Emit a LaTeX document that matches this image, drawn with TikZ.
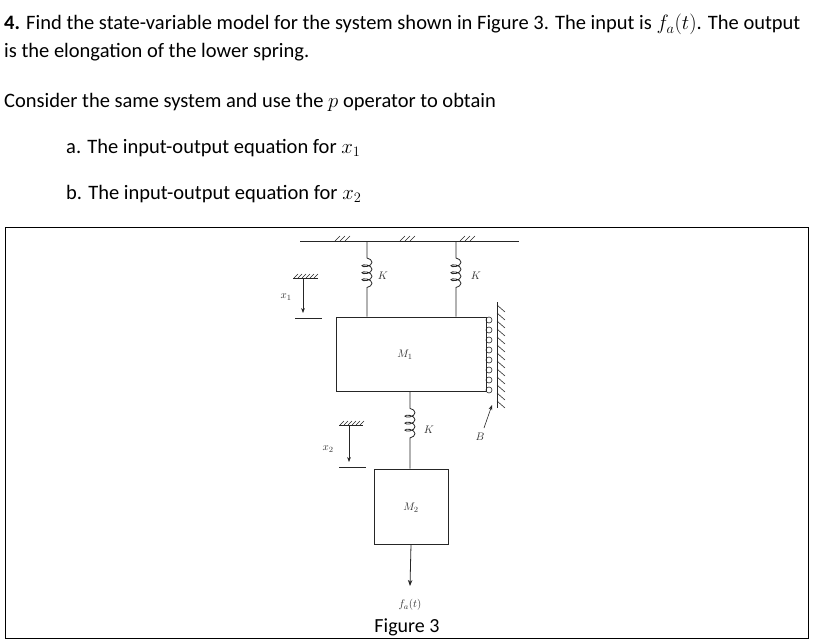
\documentclass[tikz,border=0pt]{standalone}
\usepackage{fontspec}
\setmainfont{Carlito}
\usetikzlibrary{decorations.pathmorphing,arrows.meta}
\begin{document}
\begin{tikzpicture}[x=1pt,y=-1pt,
  txt/.style={anchor=base west,inner sep=0,font=\fontsize{20.5}{24}\selectfont},
  lab/.style={inner sep=0,font=\fontsize{11}{12}\selectfont\itshape, text=black!80},
  ln/.style={line width=0.8pt,black!85},
  springc/.style={ln,decorate,decoration={coil,aspect=0.5,amplitude=5pt,segment length=7pt,pre length=17pt,post length=27pt}},
  hat/.style={ln,line width=0.6pt}]
\useasboundingbox (0,0) rectangle (816,642);
\node[txt] (t1) at (4,30) {\textbf{4.} Find the state-variable model for the system shown in Figure 3. The input is $f_a(t)$. The output};
\node[txt] (t2) at (4,57) {is the elongation of the lower spring.};
\node[txt] (t3) at (4,107) {Consider the same system and use the $p$ operator to obtain};
\node[txt] (t4) at (66,153) {a. The input-output equation for $x_1$};
\node[txt] (t5) at (66,199) {b. The input-output equation for $x_2$};
\draw[line width=0.8pt] (5,227) rectangle (808,638);
% ceiling
\draw[ln] (300,241) -- (519,241);
\foreach \x in {335,400,460}{\foreach \d in {0,5,10}{\draw[hat] (\x+\d,241) -- (\x+\d+5,236);}}
% masses
\node[draw,ln,minimum width=150pt,minimum height=74pt,inner sep=0] (m1) at (411,354) {};
\node[lab] at (405,355) {$M_1$};
\node[draw,ln,minimum width=74pt,minimum height=75pt,inner sep=0] (m2) at (411,506.5) {};
\node[lab] at (411,508) {$M_2$};
% springs
\coordinate (s1t) at (367,241); \coordinate (s2t) at (456,241);
\draw[springc] (s1t) -- (m1.north -| s1t);
\draw[springc] (s2t) -- (m1.north -| s2t);
\draw[springc] (m1.south -| 410,0) -- (m2.north -| 410,0);
\node[lab] at (383,276) {$K$};
\node[lab] at (476,276) {$K$};
\node[lab] at (429,430) {$K$};
% damper
\foreach \y in {320,330,...,390}{\draw[hat] (489,\y) circle (3pt);}
\draw[ln] (497,302) -- (497,408);
\foreach \y in {305,313,...,405}{\draw[hat] (497,\y) -- (505,\y+7);}
\coordinate (ba) at (484,428); \coordinate (bb) at (492,405);
\draw[hat,-{Stealth[length=5pt]}] (ba) -- (bb);
\node[lab] at (480,437) {$B$};
% x1
\draw[hat] (293,278) -- (318,278);
\foreach \x in {294,298,...,316}{\draw[hat] (\x,278) -- (\x+4,274);}
\draw[hat,-{Stealth[length=5pt]}] (303,278) -- (303,313);
\draw[hat] (295,318) -- (322,318);
\node[lab] at (286,297) {$x_1$};
% x2
\draw[hat] (339,425) -- (363,425);
\foreach \x in {340,344,...,360}{\draw[hat] (\x,425) -- (\x+4,421);}
\draw[hat,-{Stealth[length=5pt]}] (349,425) -- (349,462);
\draw[hat] (339,467) -- (366,467);
\node[lab] at (328,449) {$x_2$};
% force
\coordinate (fe) at (410,586);
\draw[ln,-{Stealth[length=6pt]}] (m2.south) -- (fe);
\node[lab] at (410,605) {$f_a(t)$};
\node[inner sep=0,font=\fontsize{20}{24}\selectfont] at (407,627) {Figure 3};
\end{tikzpicture}
\end{document}
